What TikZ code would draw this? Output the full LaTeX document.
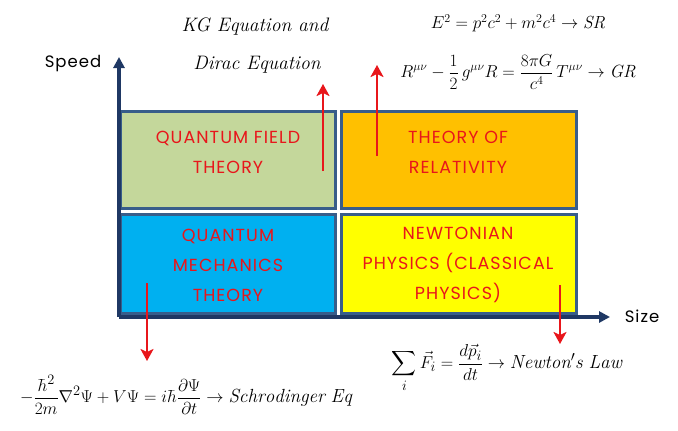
\documentclass[tikz,border=0pt]{standalone}
\usepackage{amsmath}
\usepackage{fontspec}
\newfontfamily\boxfont[LetterSpace=6]{Poppins}
\usetikzlibrary{arrows.meta}
\definecolor{qgreen}{HTML}{C4D79B}
\definecolor{qorange}{HTML}{FFC000}
\definecolor{qblue}{HTML}{00B0F0}
\definecolor{qyellow}{HTML}{FFFF00}
\definecolor{qborder}{HTML}{385D8A}
\definecolor{qaxis}{HTML}{1F3864}
\definecolor{qred}{HTML}{E8161B}
\begin{document}
\begin{tikzpicture}[x=1pt,y=-1pt,
  region/.style={draw=qborder, line width=3pt, inner sep=0pt},
  boxtext/.style={text=qred, align=center, font=\boxfont\fontsize{17.5}{30}\selectfont},
  axislabel/.style={font=\boxfont\fontsize{16.5}{18}\selectfont},
  axisline/.style={draw=qaxis, line width=3.2pt, -{Triangle[length=11pt,width=11pt]}},
  redarrow/.style={draw=qred, line width=2.8pt, -{Stealth[length=12pt,width=13pt,inset=3pt]}},
  eqn/.style={inner sep=0pt}]
\useasboundingbox (0,0) rectangle (678,431);
% regions
\node[region, fill=qgreen, minimum width=215pt, minimum height=97pt] (qft) at (228,160) {};
\node[region, fill=qorange, minimum width=235pt, minimum height=97pt] (rel) at (459,160) {};
\node[region, fill=qblue, minimum width=215pt, minimum height=99pt] (qm) at (228,264) {};
\node[region, fill=qyellow, minimum width=235pt, minimum height=99pt] (newt) at (459,264) {};
% axes
\coordinate (origin) at (119,317);
\coordinate (ytip) at (119,57);
\coordinate (xtip) at (610,317);
\draw[axisline] (origin) -- (ytip);
\draw[axisline] (origin) -- (xtip);
\node[axislabel] (speed) at (73,64) {Speed};
\node[axislabel] (size) at (642,316) {Size};
% box texts
\node[boxtext] (tqft) at (228,152) {QUANTUM FIELD\\THEORY};
\node[boxtext] (trel) at (458,152) {THEORY OF\\RELATIVITY};
\node[boxtext] (tqm) at (228,265) {QUANTUM\\MECHANICS\\THEORY};
\node[boxtext] (tnewt) at (458,265) {NEWTONIAN\\PHYSICS (CLASSICAL\\PHYSICS)};
% equations
\node[eqn, font=\itshape\fontsize{19.5}{22}\selectfont] (kg) at (255,27) {KG Equation and};
\node[eqn, font=\itshape\fontsize{19.5}{22}\selectfont] (dirac) at (257,65) {Dirac Equation};
\node[eqn, font=\fontsize{17.5}{20}\selectfont] (sr) at (518,23) {$E^2 = p^2c^2 + m^2c^4 \to \mathit{SR}$};
\node[eqn, font=\fontsize{17.7}{20}\selectfont] (gr) at (518,72) {$\displaystyle R^{\mu\nu} - \frac{1}{2}\, g^{\mu\nu} R = \frac{8\pi G}{c^4}\, T^{\mu\nu} \to \mathit{GR}$};
\node[eqn, font=\fontsize{19}{22}\selectfont] (schr) at (186,395) {$\displaystyle -\frac{\hbar^2}{2m}\nabla^2\Psi + V\Psi = i\hbar\frac{\partial\Psi}{\partial t} \to \mathit{Schrodinger\ Eq}$};
\node[eqn, font=\fontsize{19}{22}\selectfont] (newton) at (507,368) {$\displaystyle \sum_{i} \vec{F}_i = \frac{d\vec{p}_i}{dt} \to \mathit{Newton's\ Law}$};
% red arrows
\coordinate (a1s) at (323,171);
\coordinate (a1e) at (323,84);
\coordinate (a2s) at (377,156);
\coordinate (a2e) at (377,65);
\coordinate (a3s) at (147,283);
\coordinate (a3e) at (147,361);
\coordinate (a4s) at (560,285);
\coordinate (a4e) at (560,344);
\draw[redarrow] (a1s) -- (a1e);
\draw[redarrow] (a2s) -- (a2e);
\draw[redarrow] (a3s) -- (a3e);
\draw[redarrow] (a4s) -- (a4e);
\end{tikzpicture}
\end{document}
